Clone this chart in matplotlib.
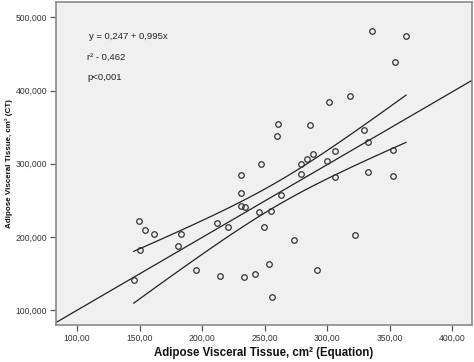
import numpy as np
import matplotlib
matplotlib.use("Agg")
import matplotlib.pyplot as plt

# Data
x_equation = [145.3, 149.6, 150.4, 154.1, 161.8, 183.4, 180.7, 195.1, 214.3, 212.1,
              220.3, 230.7, 231.3, 230.9, 234.5, 247.3, 245.5, 254.8, 263.3, 249.2,
              273.5, 253.7, 242.4, 233.3, 255.5, 291.8, 322.2, 278.8, 283.7, 288.6,
              278.8, 299.8, 306.1, 306.5, 260.9, 260.0, 286.5, 301.4, 317.8, 329.4,
              332.8, 332.2, 352.6, 352.6, 335.8, 363.0, 354.2]
y_ct = [141.5, 222.1, 182.1, 209.4, 203.3, 204.0, 187.2, 154.8, 146.6, 219.0,
        213.9, 284.6, 260.4, 242.6, 241.5, 299.6, 234.0, 234.7, 257.2, 213.5,
        195.8, 163.4, 149.3, 144.8, 117.9, 154.5, 202.2, 299.6, 306.4, 312.8,
        285.7, 303.0, 317.3, 281.8, 354.6, 337.4, 352.9, 384.3, 392.1, 346.0,
        330.3, 289.1, 318.3, 283.6, 481.7, 474.9, 439.3]
intercept = 0.247
slope = 0.995
band_scale = 0.835   # confidence band width, relative to residual-based width
x_ticks = [100, 150, 200, 250, 300, 350, 400]
x_tick_labels = ["100,00", "150,00", "200,00", "250,00", "300,00", "350,00", "400,00"]
y_ticks = [100, 200, 300, 400, 500]
y_tick_labels = ["100,000", "200,000", "300,000", "400,000", "500,000"]
annotations = ["y = 0,247 + 0,995x", "r\u00b2 - 0,462", "p<0,001"]

plt.rcParams['font.family'] = ['Liberation Sans', 'DejaVu Sans']

fig = plt.figure(figsize=(4.74, 3.62), dpi=100)
ax = fig.add_axes([56 / 474, 1 - 325.3 / 362, (472 - 56) / 474, (325.3 - 1.5) / 362])
ax.set_facecolor('#f0f0f0')

xlim = (83.2, 415.7)
ax.set_xlim(*xlim)
ax.set_ylim(79.2, 521.6)

x = np.array(x_equation)
y = np.array(y_ct)
n = len(x)

# regression line over the full axis
xl = np.linspace(xlim[0], xlim[1], 50)
ax.plot(xl, intercept + slope * xl, color='#222222', lw=0.9, zorder=2)

# 95% confidence band of the mean
resid = y - (intercept + slope * x)
s = np.sqrt(np.sum(resid ** 2) / (n - 2)) * band_scale
xbar = x.mean()
sxx = np.sum((x - xbar) ** 2)
t = 2.014
xb = np.linspace(x.min(), x.max(), 100)
half = t * s * np.sqrt(1 / n + (xb - xbar) ** 2 / sxx)
yb = intercept + slope * xb
ax.plot(xb, yb + half, color='#222222', lw=0.9, zorder=2)
ax.plot(xb, yb - half, color='#222222', lw=0.9, zorder=2)

ax.plot(x, y, linestyle='none', marker='o', markersize=4.0, markerfacecolor='none',
        markeredgecolor='#333333', markeredgewidth=0.9, zorder=3)

ax.set_xticks(x_ticks)
ax.set_xticklabels(x_tick_labels)
ax.set_yticks(y_ticks)
ax.set_yticklabels(y_tick_labels)
ax.tick_params(axis='both', direction='out', length=4.5, width=0.9, color='#555555',
               labelsize=6.2, labelcolor='#333333', pad=2)
ax.tick_params(axis='x', pad=1.5)

for sp in ax.spines.values():
    sp.set_color('#8a8a8a')
    sp.set_linewidth(1.2)

ax.set_xlabel("Adipose Visceral Tissue, cm\u00b2 (Equation)", fontsize=8.3,
              fontweight='bold', color='#111111', labelpad=3)
ax.set_ylabel("Adipose Visceral Tissue, cm\u00b2 (CT)", fontsize=5.8, fontweight='bold',
              color='#111111', family=['Liberation Sans Narrow', 'Liberation Sans'], labelpad=2)

ys = [36.7, 57.7, 77.3]
xs = [89.3, 87.3, 87.3]
for txt, px, py in zip(annotations, xs, ys):
    fig.text(px / 474, 1 - py / 362, txt, fontsize=6.8, color='#222222',
             ha='left', va='center')

fig.savefig('out.png', dpi=100)
